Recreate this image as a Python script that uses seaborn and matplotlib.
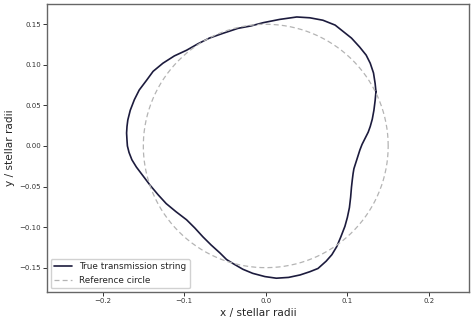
import numpy as np
import pandas as pd
import matplotlib
matplotlib.use('Agg')
import matplotlib.pyplot as plt
import seaborn as sns

# Transmission string, traced counter-clockwise from the right (stellar radii)
string_x = [0.135, 0.134, 0.132, 0.128, 0.123, 0.115, 0.105, 0.095, 0.085, 0.070,
            0.054, 0.038, 0.017, -0.003, -0.018, -0.034, -0.052, -0.069, -0.083, -0.097,
            -0.112, -0.126, -0.138, -0.146, -0.155, -0.161, -0.166, -0.169, -0.170, -0.1705,
            -0.170, -0.1695, -0.1675, -0.164, -0.1585, -0.1525, -0.142, -0.132, -0.122, -0.110,
            -0.097, -0.087, -0.077, -0.067, -0.056, -0.048, -0.040, -0.028, -0.016, -0.001,
            0.013, 0.028, 0.042, 0.054, 0.064, 0.074, 0.081, 0.087, 0.092, 0.097,
            0.100, 0.1025, 0.104, 0.105, 0.106, 0.107, 0.108, 0.1115, 0.1153, 0.118,
            0.122, 0.1255, 0.128, 0.1305, 0.1325, 0.134, 0.135]
string_y = [0.067, 0.077, 0.090, 0.102, 0.112, 0.122, 0.133, 0.141, 0.149, 0.155,
            0.158, 0.159, 0.156, 0.152, 0.148, 0.145, 0.139, 0.133, 0.126, 0.118,
            0.111, 0.102, 0.092, 0.081, 0.069, 0.057, 0.044, 0.032, 0.024, 0.016,
            0.007, 0.000, -0.008, -0.017, -0.026, -0.034, -0.048, -0.060, -0.071, -0.081,
            -0.091, -0.101, -0.112, -0.122, -0.132, -0.140, -0.145, -0.152, -0.157, -0.161,
            -0.163, -0.162, -0.159, -0.155, -0.151, -0.142, -0.134, -0.124, -0.112, -0.099,
            -0.088, -0.076, -0.063, -0.051, -0.042, -0.034, -0.028, -0.017, -0.005, 0.002,
            0.010, 0.017, 0.024, 0.033, 0.044, 0.056, 0.067]

ref_radius = 0.15

sns.set_style('white')
plt.rcParams['font.family'] = ['DejaVu Sans']

fig = plt.figure(figsize=(4.74, 3.23), dpi=100)
ax = fig.add_axes([47 / 474, 31 / 323, 422 / 474, 288 / 323])

df = pd.DataFrame({'x': string_x, 'y': string_y})
sns.lineplot(data=df, x='x', y='y', sort=False, estimator=None, ax=ax,
             color='#1c1b3d', lw=1.2, label='True transmission string')

theta = np.linspace(0, 2 * np.pi, 400)
sns.lineplot(x=ref_radius * np.cos(theta), y=ref_radius * np.sin(theta),
             sort=False, estimator=None, ax=ax, color='#b4b4b4', lw=0.9,
             linestyle=(0, (4, 2.5)), label='Reference circle')

ax.set_xlim(-0.268, 0.249)
ax.set_ylim(-0.18, 0.175)
ax.set_xticks([-0.2, -0.1, 0.0, 0.1, 0.2])
ax.set_yticks([-0.15, -0.10, -0.05, 0.0, 0.05, 0.10, 0.15])
ax.set_yticklabels(['\u22120.15', '\u22120.10', '\u22120.05', '0.00', '0.05', '0.10', '0.15'])
ax.set_xticklabels(['\u22120.2', '\u22120.1', '0.0', '0.1', '0.2'])
ax.tick_params(labelsize=5, colors='#333333', length=2.8, width=0.7, pad=1.5,
               direction='out', bottom=True, left=True)
for s in ax.spines.values():
    s.set_color('#666666')
    s.set_linewidth(1.0)

ax.set_xlabel('x / stellar radii', fontsize=7.6, labelpad=3)
ax.set_ylabel('y / stellar radii', fontsize=7.6, labelpad=3)
ax.legend(loc='lower left', fontsize=6.4, frameon=True, framealpha=0.9,
          borderpad=0.4, handlelength=2.0, borderaxespad=0.4)

fig.savefig('out.png', dpi=100)
